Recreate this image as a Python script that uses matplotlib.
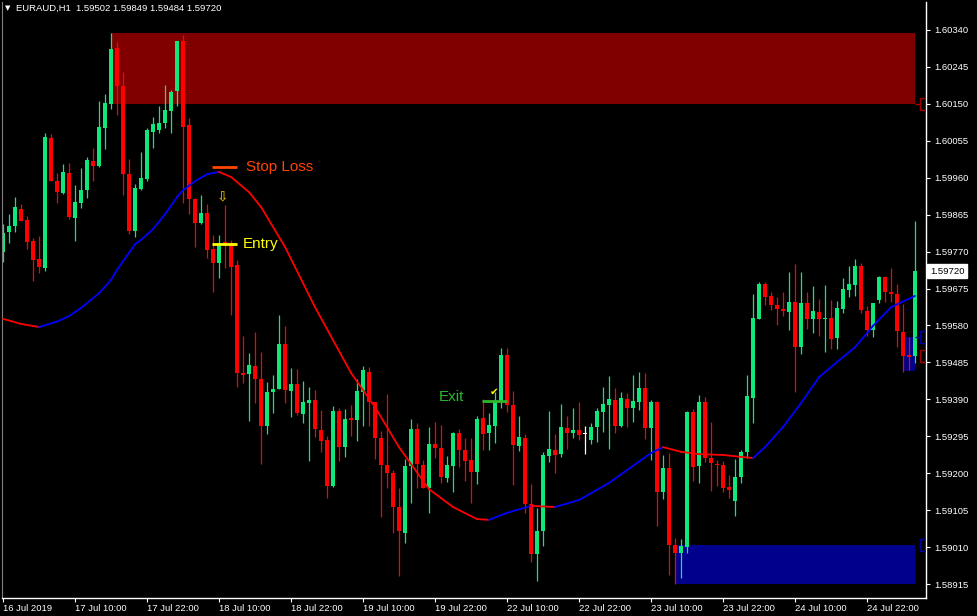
import numpy as np
import matplotlib.pyplot as plt
import matplotlib.transforms as mtransforms
from matplotlib.patches import Rectangle
from matplotlib.collections import LineCollection

plt.rcParams['font.family'] = ['Liberation Sans', 'DejaVu Sans']

## EURAUD H1 bars (16 Jul 22:00 .. 25 Jul 00:00) ##
opens = [1.59769, 1.59820, 1.59836, 1.59879, 1.59851, 1.59797, 1.59751, 1.59728, 1.60062, 1.59951,
         1.59921, 1.59972, 1.59856, 1.59895, 1.59928, 1.60003, 1.59990, 1.60088, 1.60150, 1.60294,
         1.60196, 1.59969, 1.59823, 1.59931, 1.59957, 1.60078, 1.60083, 1.60101, 1.60132, 1.60183,
         1.60312, 1.60096, 1.59905, 1.59843, 1.59869, 1.59777, 1.59741, 1.59795, 1.59792, 1.59735,
         1.59458, 1.59455, 1.59476, 1.59442, 1.59321, 1.59409, 1.59416, 1.59532, 1.59411, 1.59429,
         1.59352, 1.59380, 1.59388, 1.59311, 1.59285, 1.59167, 1.59360, 1.59267, 1.59342, 1.59337,
         1.59409, 1.59460, 1.59383, 1.59291, 1.59221, 1.59200, 1.59113, 1.59046, 1.59219, 1.59314,
         1.59221, 1.59162, 1.59275, 1.59265, 1.59188, 1.59219, 1.59303, 1.59260, 1.59234, 1.59203,
         1.59342, 1.59303, 1.59321, 1.59383, 1.59504, 1.59375, 1.59270, 1.59291, 1.59121, 1.58992,
         1.59051, 1.59244, 1.59260, 1.59249, 1.59316, 1.59303, 1.59311, 1.59301, 1.59285, 1.59319,
         1.59357, 1.59375, 1.59388, 1.59321, 1.59391, 1.59368, 1.59383, 1.59419, 1.59316, 1.59383,
         1.59152, 1.59213, 1.59015, 1.58995, 1.59010, 1.59357, 1.59219, 1.59383, 1.59239, 1.59224,
         1.59221, 1.59164, 1.59128, 1.59190, 1.59255, 1.59393, 1.59597, 1.59687, 1.59656, 1.59633,
         1.59622, 1.59615, 1.59640, 1.59524, 1.59638, 1.59597, 1.59615, 1.59597, 1.59599, 1.59548,
         1.59622, 1.59671, 1.59684, 1.59733, 1.59617, 1.59568, 1.59645, 1.59705, 1.59666, 1.59661,
         1.59563, 1.59504, 1.59502]
highs = [1.59841, 1.59867, 1.59910, 1.59892, 1.59861, 1.59805, 1.59810, 1.60075, 1.60072, 1.59972,
         1.59995, 1.59998, 1.59941, 1.59985, 1.60013, 1.60036, 1.60157, 1.60175, 1.60332, 1.60309,
         1.60232, 1.60008, 1.59944, 1.60026, 1.60088, 1.60116, 1.60144, 1.60198, 1.60186, 1.60312,
         1.60327, 1.60114, 1.59908, 1.59915, 1.59892, 1.59813, 1.59813, 1.59890, 1.59800, 1.59748,
         1.59553, 1.59509, 1.59563, 1.59512, 1.59434, 1.59452, 1.59607, 1.59579, 1.59470, 1.59468,
         1.59437, 1.59422, 1.59414, 1.59362, 1.59296, 1.59373, 1.59368, 1.59365, 1.59375, 1.59442,
         1.59476, 1.59473, 1.59383, 1.59309, 1.59404, 1.59208, 1.59162, 1.59237, 1.59339, 1.59329,
         1.59234, 1.59319, 1.59332, 1.59324, 1.59244, 1.59306, 1.59314, 1.59291, 1.59291, 1.59347,
         1.59391, 1.59355, 1.59409, 1.59522, 1.59522, 1.59411, 1.59347, 1.59301, 1.59172, 1.59110,
         1.59255, 1.59360, 1.59301, 1.59378, 1.59347, 1.59368, 1.59383, 1.59321, 1.59329, 1.59368,
         1.59422, 1.59450, 1.59419, 1.59409, 1.59406, 1.59452, 1.59460, 1.59458, 1.59388, 1.59386,
         1.59247, 1.59252, 1.59033, 1.59031, 1.59360, 1.59365, 1.59401, 1.59396, 1.59332, 1.59234,
         1.59231, 1.59195, 1.59237, 1.59260, 1.59452, 1.59661, 1.59692, 1.59692, 1.59666, 1.59653,
         1.59666, 1.59717, 1.59738, 1.59717, 1.59666, 1.59681, 1.59648, 1.59684, 1.59645, 1.59643,
         1.59702, 1.59733, 1.59751, 1.59741, 1.59630, 1.59638, 1.59707, 1.59707, 1.59728, 1.59687,
         1.59635, 1.59550, 1.59849]
lows = [1.59743, 1.59792, 1.59820, 1.59849, 1.59777, 1.59694, 1.59715, 1.59720, 1.59951, 1.59895,
        1.59918, 1.59854, 1.59797, 1.59882, 1.59908, 1.59951, 1.59987, 1.60034, 1.60137, 1.60121,
        1.59915, 1.59815, 1.59807, 1.59928, 1.59951, 1.60036, 1.60075, 1.60088, 1.60075, 1.60144,
        1.59895, 1.59867, 1.59782, 1.59841, 1.59753, 1.59666, 1.59702, 1.59728, 1.59607, 1.59422,
        1.59432, 1.59334, 1.59380, 1.59224, 1.59301, 1.59355, 1.59416, 1.59380, 1.59345, 1.59350,
        1.59329, 1.59231, 1.59293, 1.59255, 1.59136, 1.59164, 1.59231, 1.59242, 1.59296, 1.59283,
        1.59321, 1.59321, 1.59237, 1.59087, 1.59162, 1.59046, 1.58936, 1.59020, 1.59123, 1.59162,
        1.59162, 1.59098, 1.59239, 1.59175, 1.59177, 1.59152, 1.59216, 1.59180, 1.59123, 1.59172,
        1.59260, 1.59260, 1.59278, 1.59368, 1.59357, 1.59170, 1.59257, 1.59098, 1.58972, 1.58923,
        1.59013, 1.59229, 1.59200, 1.59242, 1.59262, 1.59291, 1.59285, 1.59249, 1.59275, 1.59280,
        1.59306, 1.59262, 1.59303, 1.59319, 1.59319, 1.59332, 1.59362, 1.59288, 1.59234, 1.59064,
        1.59134, 1.58938, 1.58915, 1.58930, 1.58995, 1.59180, 1.59175, 1.59229, 1.59154, 1.59167,
        1.59152, 1.59136, 1.59090, 1.59175, 1.59239, 1.59329, 1.59597, 1.59633, 1.59620, 1.59581,
        1.59604, 1.59568, 1.59409, 1.59506, 1.59571, 1.59561, 1.59553, 1.59512, 1.59519, 1.59519,
        1.59612, 1.59653, 1.59656, 1.59612, 1.59553, 1.59550, 1.59638, 1.59640, 1.59640, 1.59524,
        1.59460, 1.59465, 1.59484]
closes = [1.59818, 1.59836, 1.59885, 1.59849, 1.59795, 1.59748, 1.59730, 1.60065, 1.59951, 1.59923,
          1.59975, 1.59859, 1.59897, 1.59928, 1.60005, 1.59990, 1.60090, 1.60152, 1.60291, 1.60196,
          1.59969, 1.59823, 1.59933, 1.59959, 1.60083, 1.60098, 1.60101, 1.60134, 1.60180, 1.60312,
          1.60090, 1.59905, 1.59843, 1.59869, 1.59774, 1.59741, 1.59792, 1.59789, 1.59730, 1.59458,
          1.59452, 1.59478, 1.59442, 1.59321, 1.59409, 1.59416, 1.59532, 1.59414, 1.59429, 1.59355,
          1.59383, 1.59388, 1.59314, 1.59283, 1.59167, 1.59360, 1.59267, 1.59339, 1.59337, 1.59411,
          1.59465, 1.59383, 1.59291, 1.59221, 1.59200, 1.59113, 1.59051, 1.59219, 1.59314, 1.59224,
          1.59162, 1.59275, 1.59265, 1.59190, 1.59221, 1.59303, 1.59260, 1.59231, 1.59203, 1.59339,
          1.59301, 1.59324, 1.59383, 1.59504, 1.59375, 1.59273, 1.59293, 1.59121, 1.58992, 1.59051,
          1.59247, 1.59262, 1.59247, 1.59319, 1.59303, 1.59311, 1.59298, 1.59301, 1.59319, 1.59360,
          1.59378, 1.59391, 1.59321, 1.59393, 1.59368, 1.59386, 1.59419, 1.59316, 1.59383, 1.59152,
          1.59213, 1.59015, 1.58995, 1.59013, 1.59357, 1.59216, 1.59383, 1.59239, 1.59226, 1.59221,
          1.59162, 1.59157, 1.59190, 1.59255, 1.59398, 1.59599, 1.59687, 1.59653, 1.59633, 1.59622,
          1.59617, 1.59640, 1.59524, 1.59638, 1.59597, 1.59617, 1.59597, 1.59599, 1.59545, 1.59625,
          1.59674, 1.59687, 1.59733, 1.59620, 1.59568, 1.59638, 1.59705, 1.59666, 1.59661, 1.59566,
          1.59502, 1.59499, 1.59720]

## Moving average (blue = rising, red = falling), knots ##
ma_idx = [0, 3, 6, 9, 11, 13, 16, 18, 19, 20, 22, 23, 25, 27, 29, 30, 32, 34, 36, 38,
          41, 43, 47, 52, 58, 62, 66, 71, 73, 75, 79, 81, 84, 88, 92, 96, 101, 105, 108, 110,
          113, 116, 120, 123, 125, 127, 130, 133, 136, 139, 142, 145, 148, 152]
ma_val = [1.59597, 1.59584, 1.59576, 1.59590, 1.59604, 1.59625, 1.59663, 1.59697, 1.59723, 1.59745,
          1.59789, 1.59800, 1.59828, 1.59866, 1.59910, 1.59928, 1.59951, 1.59969, 1.59975, 1.59962,
          1.59923, 1.59885, 1.59782, 1.59627, 1.59458, 1.59370, 1.59267, 1.59159, 1.59136, 1.59113,
          1.59082, 1.59080, 1.59098, 1.59116, 1.59113, 1.59131, 1.59175, 1.59219, 1.59252, 1.59267,
          1.59255, 1.59249, 1.59247, 1.59242, 1.59239, 1.59267, 1.59319, 1.59380, 1.59447, 1.59486,
          1.59524, 1.59579, 1.59627, 1.59656]

## Zones (start bar, end bar, low, high) ##
supply_zone = (18, 152, 1.60150, 1.60332)
demand_zone = (112, 152, 1.58915, 1.59015)
small_zone = (150, 152, 1.59463, 1.59550)

ytick_vals = [1.58915, 1.59010, 1.59105, 1.59200, 1.59295, 1.59390, 1.59485, 1.59580,
              1.59675, 1.59770, 1.59865, 1.59960, 1.60055, 1.60150, 1.60245, 1.60340]
xtick_pos = [0, 12, 24, 36, 48, 60, 72, 84, 96, 108, 120, 132, 144]
xtick_lab = ['16 Jul 2019', '17 Jul 10:00', '17 Jul 22:00', '18 Jul 10:00', '18 Jul 22:00',
             '19 Jul 10:00', '19 Jul 22:00', '22 Jul 10:00', '22 Jul 22:00', '23 Jul 10:00',
             '23 Jul 22:00', '24 Jul 10:00', '24 Jul 22:00']

stop_loss = 1.59987
entry = 1.59789
exit_lvl = 1.59386

bull = '#10E67A'
bear = '#FF0000'

o = np.array(opens); h = np.array(highs); l = np.array(lows); c = np.array(closes)
x = np.arange(len(o))

fig = plt.figure(figsize=(9.77, 6.16), dpi=100, facecolor='black')
ax = fig.add_axes([2/977, 18/616, 924/977, 596/616], facecolor='black')

# zones behind the candles
for (x0, x1, y0, y1), col in [(supply_zone, '#800000'), (demand_zone, '#00008C'), (small_zone, '#00008C')]:
    ax.add_patch(Rectangle((x0, y0), x1 - x0, y1 - y0, facecolor=col, edgecolor='none', zorder=1))

# candles
cols = np.where(c > o, bull, np.where(c < o, bear, 'white'))
ax.vlines(x, l, h, colors=cols, linewidth=0.9, zorder=2)
body_lo = np.minimum(o, c)
body_h = np.maximum(np.abs(c - o), 0.00003)
ax.bar(x, body_h, bottom=body_lo, width=0.58, color=cols, linewidth=0, zorder=2)

# MA line, coloured by slope
pts = np.column_stack([ma_idx, ma_val])
segs = np.stack([pts[:-1], pts[1:]], axis=1)
seg_cols = ['#FF0000' if b < a else '#0000FF' for a, b in zip(ma_val[:-1], ma_val[1:])]
ax.add_collection(LineCollection(segs, colors=seg_cols, linewidths=1.3, zorder=3,
                                 capstyle='round', joinstyle='round'))

# trade annotations
ax.hlines(stop_loss, 34.8, 39, color='#FF4500', linewidth=2, zorder=4)
ax.text(40.5, stop_loss, 'Stop Loss', color='#FF4500', fontsize=11, va='center', ha='left', zorder=4)
ax.hlines(entry, 34.8, 39, color='#FFFF00', linewidth=2, zorder=4)
ax.text(40.0, entry, 'Entry', color='#FFFF00', fontsize=11, va='center', ha='left', zorder=4)
ax.text(36.7, 1.59913, '⇩', color='#C8A000', fontsize=10, va='center', ha='center',
        family='DejaVu Sans', fontweight='bold', zorder=4)
ax.hlines(exit_lvl, 79.8, 84, color='#2DB82D', linewidth=2, zorder=4)
ax.text(76.8, 1.59396, 'Exit', color='#2DB82D', fontsize=11, va='center', ha='right', zorder=4)
ax.text(81.9, 1.59408, '✔', color='#FFFF00', fontsize=7.5, va='center', ha='center',
        family='DejaVu Sans', zorder=4)

# little price markers at the right edge
for lvl, col in [(1.60150, '#A00000'), (1.59550, '#0000A0'), (1.59502, '#A00000'), (1.59015, '#0000A0')]:
    ax.add_patch(Rectangle((152.9, lvl - 0.00016), 1.2, 0.00032, facecolor='none',
                           edgecolor=col, linewidth=1, zorder=5, clip_on=True))
ax.hlines(supply_zone[2], supply_zone[1], 153, color='#A00000', linewidth=1, zorder=5)
ax.hlines(small_zone[3], small_zone[1], 153, color='#0000A0', linewidth=1, zorder=5)

ax.set_xlim(-0.17, 153.83)
ax.set_ylim(1.58879, 1.60412)

ax.yaxis.tick_right()
ax.set_yticks(ytick_vals)
ax.set_yticklabels([f'{v:.5f}' for v in ytick_vals])
ax.set_xticks(xtick_pos)
ax.set_xticklabels(xtick_lab, ha='left')
ax.tick_params(axis='both', colors='white', labelcolor='white', labelsize=6.8, length=3, width=0.8)
ax.tick_params(axis='x', pad=1)
ax.tick_params(axis='y', pad=3)

for side in ['right', 'bottom']:
    ax.spines[side].set_color('white')
    ax.spines[side].set_linewidth(1)
ax.spines['left'].set_color('#808080')
ax.spines['top'].set_visible(False)

# current price box
tr = mtransforms.blended_transform_factory(ax.transAxes, ax.transData)
ax.text(1.0045, c[-1], f'{c[-1]:.5f}', transform=tr, color='black', fontsize=6.8,
        va='center', ha='left', clip_on=False,
        bbox=dict(facecolor='white', edgecolor='white', boxstyle='square,pad=0.3'))

# header
fig.text(5/977, 1 - 8/616, '▼', color='white', fontsize=5, va='center', ha='left', family='DejaVu Sans')
fig.text(16/977, 1 - 8/616, f'EURAUD,H1  {o[-1]:.5f} {h[-1]:.5f} {l[-1]:.5f} {c[-1]:.5f}',
         color='white', fontsize=6.8, va='center', ha='left')

fig.savefig('out.png', dpi=100, facecolor='black')
